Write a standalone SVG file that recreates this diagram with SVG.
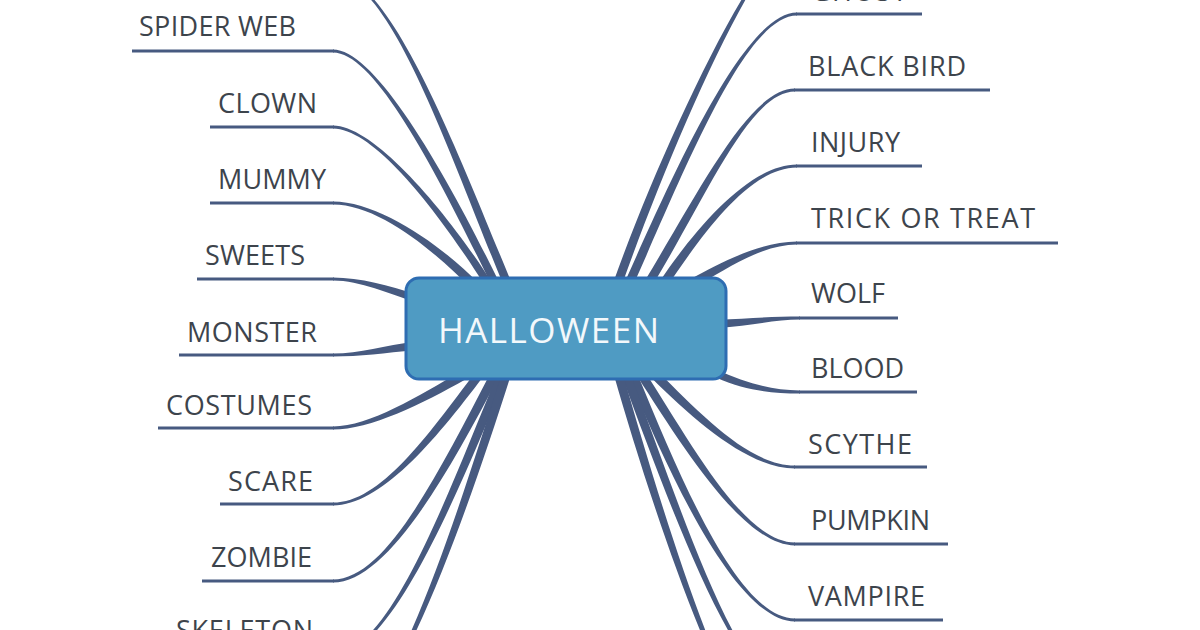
<svg xmlns="http://www.w3.org/2000/svg" width="1200" height="630" viewBox="0 0 1200 630">
<style>
.br{fill:#475a80;stroke:none}
.ul{fill:none;stroke:#475a80;stroke-width:3;stroke-linecap:butt}
.lb{font-family:"Open Sans","Liberation Sans",sans-serif;font-size:27px;fill:#3d444c}
.ct{font-family:"Open Sans","Liberation Sans",sans-serif;font-size:35px;fill:#f3f8fb}
</style>
<rect width="1200" height="630" fill="#ffffff"/>
<g id="connectors">
<path class="br" d="M503.5,285 C447.5,150 390,-23.5 333,-23.5 L333,-26.5 C390,-26.5 456.5,150 512.5,285 Z"/>
<path class="br" d="M491.5,285 C435.5,170 375,52.5 333,52.5 L333,49.5 C375,49.5 444.5,170 500.5,285 Z"/>
<path class="ul" d="M132,51 H334"/>
<path class="br" d="M484.5,285 C440.5,215 375,128.5 333,128.5 L333,125.5 C375,125.5 449.5,215 493.5,285 Z"/>
<path class="ul" d="M210,127 H334"/>
<path class="br" d="M472.8,290.2 C436.8,253.2 380,204.5 333,204.5 L333,201.5 C380,201.5 443.2,246.8 479.2,283.8 Z"/>
<path class="ul" d="M210,203 H334"/>
<path class="br" d="M415,302 C390,294 360,280.5 333,280.5 L333,277.5 C360,277.5 390,286 415,294 Z"/>
<path class="ul" d="M197,279 H334"/>
<path class="br" d="M415,350 C385,353 360,356.5 333,356.5 L333,353.5 C360,353.5 385,345 415,342 Z"/>
<path class="ul" d="M179,355 H334"/>
<path class="br" d="M461.8,371.1 C417.8,396.1 370,426.5 333,426.5 L333,429.5 C370,429.5 422.2,403.9 466.2,378.9 Z"/>
<path class="ul" d="M158,428 H334"/>
<path class="br" d="M476.2,370.9 C426.4,437.3 380,502.5 333,502.5 L333,505.5 C380,505.5 433.6,442.7 483.4,376.3 Z"/>
<path class="ul" d="M220,504 H334"/>
<path class="br" d="M491.7,370.8 C436,477.9 385,579.5 333,579.5 L333,582.5 C385,582.5 444,482.1 499.7,375 Z"/>
<path class="ul" d="M202,581 H334"/>
<path class="br" d="M498.8,370.9 C445.8,498.3 390,653.5 333,653.5 L333,656.5 C390,656.5 454.2,501.7 507.2,374.3 Z"/>
<path class="ul" d="M168,655 H334"/>
<path class="br" d="M502.6,371.1 C455.6,518.9 390,731.5 333,731.5 L333,734.5 C390,734.5 464.4,521.1 511.4,373.3 Z"/>
<path class="br" d="M621.5,286 C669.2,151.5 760,-60.5 797,-60.5 L797,-63.5 C760,-63.5 660.8,148.5 613.1,283 Z"/>
<path class="br" d="M632.8,286.1 C684.1,171.8 745,15.5 797,15.5 L797,12.5 C745,12.5 675.9,168.2 624.6,282.5 Z"/>
<path class="ul" d="M796,14 H922"/>
<path class="br" d="M652,286.2 C708.9,192.2 750,91.5 795,91.5 L795,88.5 C750,88.5 701.1,187.8 644.2,281.8 Z"/>
<path class="ul" d="M794,90 H990"/>
<path class="br" d="M667.2,286.1 C703.7,232.5 750,167.5 797,167.5 L797,164.5 C750,164.5 696.3,227.5 659.8,281.1 Z"/>
<path class="ul" d="M796,166 H922"/>
<path class="br" d="M695.2,286.8 C722.2,271.9 760,244.5 797,244.5 L797,241.5 C760,241.5 717.8,264.1 690.8,279 Z"/>
<path class="ul" d="M796,243 H1058"/>
<path class="br" d="M717,328 C750,326 775,319.5 800,319.5 L800,316.5 C775,316.5 750,318 717,320 Z"/>
<path class="ul" d="M799,318 H898"/>
<path class="br" d="M717,378 C745,390 770,393.5 800,393.5 L800,390.5 C770,390.5 745,382 717,370 Z"/>
<path class="ul" d="M799,392 H917"/>
<path class="br" d="M657.5,371.1 C703.2,416.8 750,465.5 795,465.5 L795,468.5 C750,468.5 696.8,423.2 651.1,377.5 Z"/>
<path class="ul" d="M794,467 H927"/>
<path class="br" d="M644.5,370.9 C693.8,447.6 745,542.5 795,542.5 L795,545.5 C745,545.5 686.2,452.4 636.9,375.7 Z"/>
<path class="ul" d="M794,544 H948"/>
<path class="br" d="M636.2,370.9 C684.2,488.3 740,618.5 795,618.5 L795,621.5 C740,621.5 675.8,491.7 627.8,374.3 Z"/>
<path class="ul" d="M794,620 H943"/>
<path class="br" d="M629.4,370.9 C684.2,518.4 740,694.5 795,694.5 L795,697.5 C740,697.5 675.8,521.6 621,374.1 Z"/>
<path class="br" d="M622.1,371.1 C664.3,518.8 740,770.5 795,770.5 L795,773.5 C740,773.5 655.7,521.2 613.5,373.5 Z"/>
</g>
<g id="center">
<rect x="406" y="278" width="320" height="101" rx="13" fill="#4f9bc3" stroke="#2e6db2" stroke-width="3"/>
<text class="ct" x="438" y="343" textLength="221" lengthAdjust="spacing">HALLOWEEN</text>
</g>
<g id="n-spider"><text class="lb" x="139" y="36" textLength="157" lengthAdjust="spacing">SPIDER WEB</text></g>
<g id="n-clown"><text class="lb" x="218" y="113" textLength="99" lengthAdjust="spacing">CLOWN</text></g>
<g id="n-mummy"><text class="lb" x="218" y="189" textLength="108" lengthAdjust="spacing">MUMMY</text></g>
<g id="n-sweets"><text class="lb" x="205" y="265" textLength="100" lengthAdjust="spacing">SWEETS</text></g>
<g id="n-monster"><text class="lb" x="187" y="342" textLength="130" lengthAdjust="spacing">MONSTER</text></g>
<g id="n-costumes"><text class="lb" x="166" y="415" textLength="146" lengthAdjust="spacing">COSTUMES</text></g>
<g id="n-scare"><text class="lb" x="228" y="491" textLength="85" lengthAdjust="spacing">SCARE</text></g>
<g id="n-zombie"><text class="lb" x="211" y="567" textLength="101" lengthAdjust="spacing">ZOMBIE</text></g>
<g id="n-skeleton"><text class="lb" x="176" y="640" textLength="137" lengthAdjust="spacing">SKELETON</text></g>
<g id="n-ghost"><text class="lb" x="811" y="1" textLength="96" lengthAdjust="spacing">GHOST</text></g>
<g id="n-blackbird"><text class="lb" x="808" y="76" textLength="158" lengthAdjust="spacing">BLACK BIRD</text></g>
<g id="n-injury"><text class="lb" x="811" y="152" textLength="89" lengthAdjust="spacing">INJURY</text></g>
<g id="n-trick"><text class="lb" x="811" y="228" textLength="224" lengthAdjust="spacing">TRICK OR TREAT</text></g>
<g id="n-wolf"><text class="lb" x="811" y="303" textLength="74" lengthAdjust="spacing">WOLF</text></g>
<g id="n-blood"><text class="lb" x="811" y="378" textLength="93" lengthAdjust="spacing">BLOOD</text></g>
<g id="n-scythe"><text class="lb" x="808" y="454" textLength="104" lengthAdjust="spacing">SCYTHE</text></g>
<g id="n-pumpkin"><text class="lb" x="811" y="530" textLength="119" lengthAdjust="spacing">PUMPKIN</text></g>
<g id="n-vampire"><text class="lb" x="808" y="606" textLength="117" lengthAdjust="spacing">VAMPIRE</text></g>
</svg>
